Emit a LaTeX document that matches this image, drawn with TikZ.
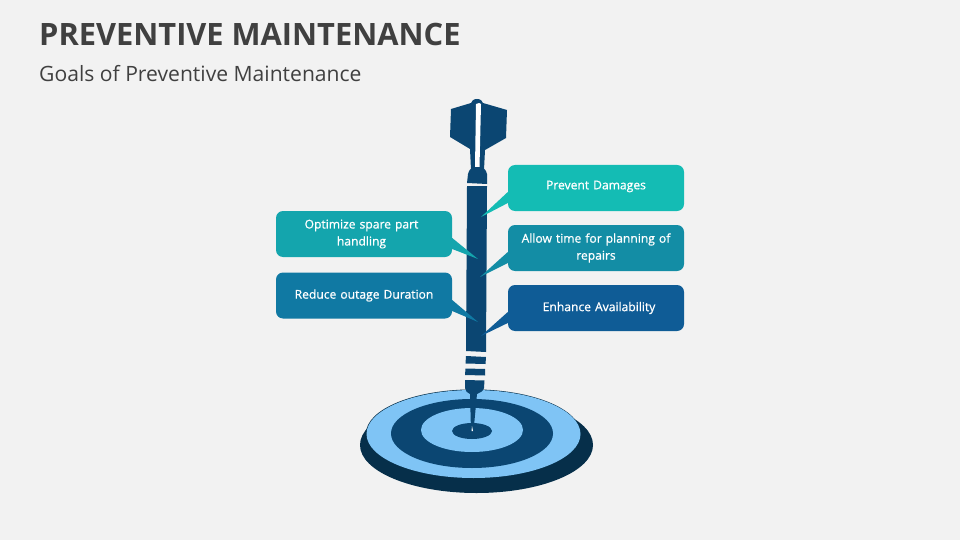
\documentclass[tikz,border=0pt]{standalone}
\usepackage{fontspec}
\setmainfont{Open Sans}
\definecolor{pagebg}{HTML}{F2F2F2}
\definecolor{titlegray}{HTML}{404040}
\definecolor{dartblue}{HTML}{0B4672}
\definecolor{boardlight}{HTML}{7FC4F5}
\definecolor{boarddark}{HTML}{062F4A}
\definecolor{preventcol}{HTML}{14BCB4}
\definecolor{allowcol}{HTML}{138DA5}
\definecolor{enhancecol}{HTML}{0F5C96}
\definecolor{optimizecol}{HTML}{14A5AD}
\definecolor{reducecol}{HTML}{1079A3}
\tikzset{
  goalbox/.style={rounded corners=7pt,minimum width=176pt,minimum height=46pt,
    text width=170pt,align=center,text=white,inner sep=0pt,
    font=\fontsize{12.1}{17}\selectfont\addfontfeatures{FakeBold=0.8}},
  band/.style={fill=dartblue,draw=none}
}
\begin{document}
\begin{tikzpicture}[x=1pt,y=-1pt]
  \useasboundingbox (0,0) rectangle (960,540);
  \fill[pagebg] (0,0) rectangle (960,540);
  \node[anchor=west,text=titlegray,inner sep=0pt,font=\fontsize{30.8}{38}\selectfont\bfseries] (title) at (39,35) {PREVENTIVE MAINTENANCE};
  \node[anchor=west,text=titlegray,inner sep=0pt,font=\fontsize{21.1}{25}\selectfont] (subtitle) at (39,74) {Goals of Preventive Maintenance};
  % target
  \fill[boarddark] (476.5,445) ellipse[x radius=116.5,y radius=48];
  \fill[boarddark] (473.3,433.7) ellipse[x radius=107.4,y radius=44.3];
  \fill[boardlight] (473.5,434) ellipse[x radius=107,y radius=44];
  \fill[dartblue] (472,433.5) ellipse[x radius=81,y radius=34.5];
  \fill[boardlight] (472,430) ellipse[x radius=51,y radius=22];
  \fill[dartblue] (472,431) ellipse[x radius=20,y radius=8];
  % dart
  \fill[band] (477,99) .. controls (473,99) and (472,101) .. (471,103) -- (451,109)
    -- (450,137) -- (470,149) -- (471,170) -- (484,170) -- (485,150) -- (506,138)
    -- (507,110) -- (483,103) .. controls (482,101) and (481,99) .. (477,99) -- cycle;
  \fill[white] (476,104) -- (479,103) -- (481,104) -- (479.5,167) -- (475,167) -- cycle;
  \fill[band] (467,183) -- (468,174) .. controls (469,170) and (471,168) .. (473,168)
    -- (482,168) .. controls (484,168) and (486,170) .. (487,174) -- (487,184) -- cycle;
  \fill[band] (467,186) -- (487,186) -- (486,352) -- (466,351) -- cycle;
  \fill[band] (466,356) -- (486,357) -- (485.5,364) -- (465.5,363.5) -- cycle;
  \fill[band] (465.5,368.5) -- (485,369) -- (485,375.5) -- (465,375) -- cycle;
  \fill[band] (465,380) -- (484.5,380.5) -- (484,388) .. controls (483.5,391) and (480,393) .. (477,394)
    -- (473.5,431) -- (471,431) -- (470,394) .. controls (467,393) and (465.5,391) .. (465,388) -- cycle;
  \fill[white] (472,426) -- (473,431) -- (471.5,431) -- cycle;
  % goals
  \node[goalbox,fill=preventcol,text depth=6pt] (prevent) at (596,188) {Prevent Damages};
  \node[goalbox,fill=allowcol] (allow) at (596,248) {Allow time for planning of\\repairs};
  \node[goalbox,fill=enhancecol] (enhance) at (596,308) {\hspace*{6pt}Enhance Availability};
  \node[goalbox,fill=optimizecol] (optimize) at (364,234) {\hspace*{-5pt}Optimize spare part\\\hspace*{-5pt}handling};
  \node[goalbox,fill=reducecol] (reduce) at (364,295.5) {Reduce outage Duration};
  \coordinate (preventtip) at (481,217);
  \coordinate (allowtip) at (480,277);
  \coordinate (enhancetip) at (481,336);
  \coordinate (optimizetip) at (478,259);
  \coordinate (reducetip) at (478,322);
  \fill[preventcol] ([yshift=-4pt]prevent.west) -- (preventtip) -- ([yshift=-15pt]prevent.west) -- cycle;
  \fill[allowcol] ([yshift=-4pt]allow.west) -- (allowtip) -- ([yshift=-15pt]allow.west) -- cycle;
  \fill[enhancecol] ([yshift=-4pt]enhance.west) -- (enhancetip) -- ([yshift=-15pt]enhance.west) -- cycle;
  \fill[optimizecol] ([yshift=-4pt]optimize.east) -- (optimizetip) -- ([yshift=-15pt]optimize.east) -- cycle;
  \fill[reducecol] ([yshift=-4.5pt]reduce.east) -- (reducetip) -- ([yshift=-15.5pt]reduce.east) -- cycle;
\end{tikzpicture}
\end{document}
